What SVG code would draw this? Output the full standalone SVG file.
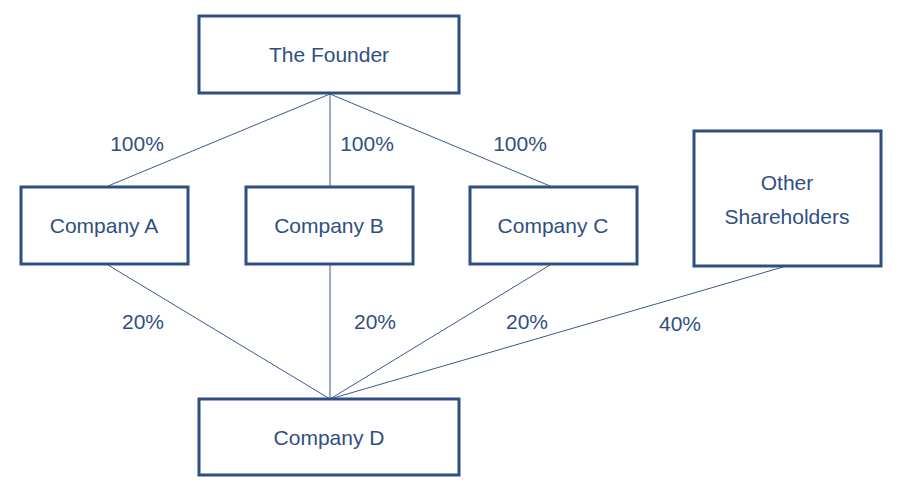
<svg xmlns="http://www.w3.org/2000/svg" width="898" height="490" viewBox="0 0 898 490">
<style>
.b{fill:#fff;stroke:#2f4f82;stroke-width:3}
.t{font-family:"Liberation Sans",Arial,sans-serif;font-size:21px;fill:#2f4f82;text-anchor:middle}
.c line{stroke:#3b5a8c;stroke-width:1}
</style>
<rect width="898" height="490" fill="#fff"/>
<g class="c" id="connectors">
<line x1="330" y1="94" x2="108" y2="186"/>
<line x1="330" y1="94" x2="330" y2="186"/>
<line x1="330" y1="94" x2="550" y2="186"/>
<line x1="330" y1="399" x2="108" y2="265"/>
<line x1="330" y1="399" x2="330" y2="265"/>
<line x1="330" y1="399" x2="550" y2="265"/>
<line x1="330" y1="399" x2="783" y2="267"/>
</g>
<g id="founder"><rect class="b" x="199" y="16" width="260" height="77"/><text class="t" x="329" y="62">The Founder</text></g>
<g id="a"><rect class="b" x="21" y="187" width="167" height="77"/><text class="t" x="104" y="233">Company A</text></g>
<g id="b"><rect class="b" x="246" y="187" width="167" height="77"/><text class="t" x="329" y="233">Company B</text></g>
<g id="c"><rect class="b" x="470" y="187" width="167" height="77"/><text class="t" x="553" y="233">Company C</text></g>
<g id="other"><rect class="b" x="694" y="131" width="187" height="135"/><text class="t" x="787" y="190">Other</text><text class="t" x="787" y="224">Shareholders</text></g>
<g id="d"><rect class="b" x="199" y="399" width="260" height="76"/><text class="t" x="329" y="445">Company D</text></g>
<g id="labels">
<text class="t" x="137" y="151">100%</text>
<text class="t" x="367" y="151">100%</text>
<text class="t" x="520" y="151">100%</text>
<text class="t" x="143" y="329">20%</text>
<text class="t" x="375" y="329">20%</text>
<text class="t" x="527" y="329">20%</text>
<text class="t" x="680" y="331">40%</text>
</g>
</svg>
